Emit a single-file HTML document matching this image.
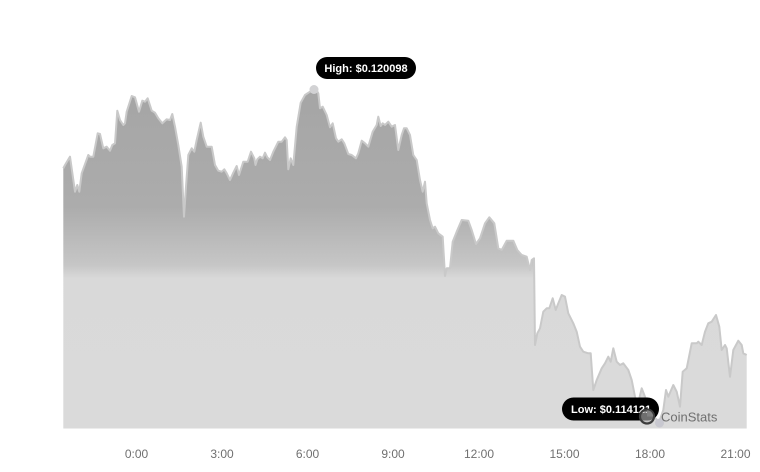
<!DOCTYPE html>
<html>
<head>
<meta charset="utf-8">
<style>
  html, body { margin:0; padding:0; background:#ffffff; }
  body { width:760px; height:472px; overflow:hidden; position:relative; font-family:"Liberation Sans", sans-serif; }
  svg { position:absolute; left:0; top:0; }
</style>
</head>
<body>
<svg width="760" height="472" viewBox="0 0 760 472" xmlns="http://www.w3.org/2000/svg">
  <defs>
    <linearGradient id="g" x1="0" y1="87" x2="0" y2="429" gradientUnits="userSpaceOnUse">
      <stop offset="0" stop-color="#a5a5a5"/>
      <stop offset="0.35" stop-color="#acacac"/>
      <stop offset="0.52" stop-color="#c6c6c6"/>
      <stop offset="0.56" stop-color="#d9d9d9"/>
      <stop offset="1" stop-color="#dadada"/>
    </linearGradient>
  </defs>
  <path fill="url(#g)" stroke="none" d="M63.3,428.5 L63.3,168.3 L65,165 L70,156.7 L75,191.7 L77.3,185 L79.3,191.7 L81.7,173.3 L88.3,155 L90,156.7 L93.3,156.7 L97.7,133.3 L100,134 L103.3,148.3 L106.7,146.7 L110,150.7 L112.3,145 L115,143.3 L117.3,110.7 L120,120 L123.3,125 L125,123.3 L126.7,111.7 L131.7,96 L135,97.3 L139,111.7 L142.3,100.7 L145,101.7 L147.7,98.3 L151.7,110.7 L155,112.7 L158.3,118.3 L162.3,123.3 L166.7,119.3 L170,120 L172.3,114 L175,126.7 L178.3,145 L181.7,166.7 L184,216.7 L186,186.7 L188.3,155 L191.7,148.3 L194.3,151.7 L196.7,140 L200.7,122.7 L203.3,136.7 L206.7,146.7 L211.7,146.7 L215,165 L218.3,170.7 L221.7,171.7 L224.3,169.3 L226.7,173.3 L230,180 L233.3,172.7 L236.7,166 L239,175 L243.3,161.7 L247.7,161.7 L251,151.7 L254.3,158.3 L255.5,165 L257.3,159.3 L260,156.7 L262.7,158.3 L265,152.7 L267.3,157.3 L270,160 L273.3,151.7 L278.3,141.7 L281.7,141.7 L285,137.3 L286.7,140 L288.3,169.3 L290.7,158.3 L293.3,165 L296.7,126.7 L300.7,102.7 L305,95 L310,91.7 L315,87.3 L318.3,93.3 L320,108.3 L322.7,106.7 L326.7,115 L330,127.3 L332.7,123.3 L336,138.3 L338.3,141.7 L341.7,139.3 L344.3,143.3 L348.3,154 L351.7,155 L356,158.3 L358.3,153.3 L361.7,140.7 L365,143.3 L368.3,146.7 L372.7,131.7 L376.7,125 L378.3,116.7 L380.7,126 L382.7,123.3 L385,125 L388.3,121.7 L391.7,126.7 L395,125 L398.3,150 L401.7,135 L404,128.3 L406.7,128.3 L410,135 L413.3,155 L416.7,160 L420,180 L422.7,191.7 L425,181.7 L426.7,203.3 L430,220 L432.7,228.3 L435,226.7 L438.3,233.3 L442.7,236.7 L445,276 L446.7,268.3 L450,268.3 L452.7,241.7 L456.7,231.7 L461.7,220 L468.3,220.7 L471.7,230 L476,244 L480,238.3 L485,223.3 L489.3,217.3 L494.3,223.3 L498.3,248.3 L501.7,250 L506.7,240.7 L513.3,240.7 L517.3,250 L521.7,255 L526.7,256.7 L530,270 L531.7,260 L534,258.3 L535,345 L537.3,333.3 L540,328.3 L543.3,311.7 L546.7,308.3 L549.3,308.3 L552.7,298.3 L555.7,310 L558.3,303.3 L561.7,295 L565,296.7 L568.3,313.3 L573.3,323.3 L576.7,331.7 L580,346.7 L583.3,351.7 L588.3,353.3 L590.7,353.3 L593.3,390 L596.7,380 L601.7,368.3 L605,363.3 L608.3,356.7 L610.7,361.7 L613.3,348.3 L616.7,361.7 L620,365 L623.3,363.3 L628.3,370 L631.7,380 L635,396.7 L637.3,406.7 L641.7,388.3 L645,396.7 L650,410 L655,418 L659.3,421.7 L663.3,410 L666,390 L668.3,396.7 L673.3,385 L676.7,391.7 L680,406.7 L682.7,371.7 L686.7,368.3 L691.7,343.3 L696.7,343.3 L698.3,341.7 L701.7,345 L705,331.7 L708.3,323.3 L711.7,321.7 L716,315 L719.3,326.7 L721.7,350 L725,345 L726.7,348.3 L730,376.7 L733.3,350 L738.3,340.7 L741.7,345 L743.3,353.3 L746.7,355 L746.7,428.5 Z"/>
  <path fill="none" stroke="#c9c9c9" stroke-width="2" stroke-linejoin="round" d="M63.3,168.3 L65,165 L70,156.7 L75,191.7 L77.3,185 L79.3,191.7 L81.7,173.3 L88.3,155 L90,156.7 L93.3,156.7 L97.7,133.3 L100,134 L103.3,148.3 L106.7,146.7 L110,150.7 L112.3,145 L115,143.3 L117.3,110.7 L120,120 L123.3,125 L125,123.3 L126.7,111.7 L131.7,96 L135,97.3 L139,111.7 L142.3,100.7 L145,101.7 L147.7,98.3 L151.7,110.7 L155,112.7 L158.3,118.3 L162.3,123.3 L166.7,119.3 L170,120 L172.3,114 L175,126.7 L178.3,145 L181.7,166.7 L184,216.7 L186,186.7 L188.3,155 L191.7,148.3 L194.3,151.7 L196.7,140 L200.7,122.7 L203.3,136.7 L206.7,146.7 L211.7,146.7 L215,165 L218.3,170.7 L221.7,171.7 L224.3,169.3 L226.7,173.3 L230,180 L233.3,172.7 L236.7,166 L239,175 L243.3,161.7 L247.7,161.7 L251,151.7 L254.3,158.3 L255.5,165 L257.3,159.3 L260,156.7 L262.7,158.3 L265,152.7 L267.3,157.3 L270,160 L273.3,151.7 L278.3,141.7 L281.7,141.7 L285,137.3 L286.7,140 L288.3,169.3 L290.7,158.3 L293.3,165 L296.7,126.7 L300.7,102.7 L305,95 L310,91.7 L315,87.3 L318.3,93.3 L320,108.3 L322.7,106.7 L326.7,115 L330,127.3 L332.7,123.3 L336,138.3 L338.3,141.7 L341.7,139.3 L344.3,143.3 L348.3,154 L351.7,155 L356,158.3 L358.3,153.3 L361.7,140.7 L365,143.3 L368.3,146.7 L372.7,131.7 L376.7,125 L378.3,116.7 L380.7,126 L382.7,123.3 L385,125 L388.3,121.7 L391.7,126.7 L395,125 L398.3,150 L401.7,135 L404,128.3 L406.7,128.3 L410,135 L413.3,155 L416.7,160 L420,180 L422.7,191.7 L425,181.7 L426.7,203.3 L430,220 L432.7,228.3 L435,226.7 L438.3,233.3 L442.7,236.7 L445,276 L446.7,268.3 L450,268.3 L452.7,241.7 L456.7,231.7 L461.7,220 L468.3,220.7 L471.7,230 L476,244 L480,238.3 L485,223.3 L489.3,217.3 L494.3,223.3 L498.3,248.3 L501.7,250 L506.7,240.7 L513.3,240.7 L517.3,250 L521.7,255 L526.7,256.7 L530,270 L531.7,260 L534,258.3 L535,345 L537.3,333.3 L540,328.3 L543.3,311.7 L546.7,308.3 L549.3,308.3 L552.7,298.3 L555.7,310 L558.3,303.3 L561.7,295 L565,296.7 L568.3,313.3 L573.3,323.3 L576.7,331.7 L580,346.7 L583.3,351.7 L588.3,353.3 L590.7,353.3 L593.3,390 L596.7,380 L601.7,368.3 L605,363.3 L608.3,356.7 L610.7,361.7 L613.3,348.3 L616.7,361.7 L620,365 L623.3,363.3 L628.3,370 L631.7,380 L635,396.7 L637.3,406.7 L641.7,388.3 L645,396.7 L650,410 L655,418 L659.3,421.7 L663.3,410 L666,390 L668.3,396.7 L673.3,385 L676.7,391.7 L680,406.7 L682.7,371.7 L686.7,368.3 L691.7,343.3 L696.7,343.3 L698.3,341.7 L701.7,345 L705,331.7 L708.3,323.3 L711.7,321.7 L716,315 L719.3,326.7 L721.7,350 L725,345 L726.7,348.3 L730,376.7 L733.3,350 L738.3,340.7 L741.7,345 L743.3,353.3 L746.7,355"/>

  <!-- High marker -->
  <circle cx="314" cy="89.5" r="4.5" fill="#d2d2d4"/>
  <rect x="316" y="57" width="100" height="22" rx="11" ry="11" fill="#000"/>
  <text x="366" y="72" text-anchor="middle" font-family="Liberation Sans, sans-serif" font-size="11" font-weight="bold" fill="#ffffff">High: $0.120098</text>

  <!-- Low marker -->
  <circle cx="659.5" cy="423" r="4.5" fill="#c8c8d0"/>
  <rect x="562" y="397.5" width="97" height="23" rx="11.5" ry="11.5" fill="#000"/>
  <text x="571" y="413" font-family="Liberation Sans, sans-serif" font-size="11" font-weight="bold" fill="#ffffff">Low: $0.114121</text>

  <!-- CoinStats logo -->
  <circle cx="647" cy="416.5" r="7" fill="#b8b8b8" fill-opacity="0.6" stroke="#3c3c3c" stroke-width="2.2"/>
  <path d="M647,416.5 L647,410.3 A6.2,6.2 0 0 1 653.2,416.5 Z" fill="#808080"/>
  <text x="661" y="421.5" font-family="Liberation Sans, sans-serif" font-size="13" fill="#6f6f6f">CoinStats</text>

  <!-- X axis labels -->
  <g font-family="Liberation Sans, sans-serif" font-size="12" fill="#707070" text-anchor="middle">
    <text x="136.5" y="458">0:00</text>
    <text x="222" y="458">3:00</text>
    <text x="307.5" y="458">6:00</text>
    <text x="393" y="458">9:00</text>
    <text x="479" y="458">12:00</text>
    <text x="564.5" y="458">15:00</text>
    <text x="650" y="458">18:00</text>
    <text x="735.5" y="458">21:00</text>
  </g>
</svg>
</body>
</html>
